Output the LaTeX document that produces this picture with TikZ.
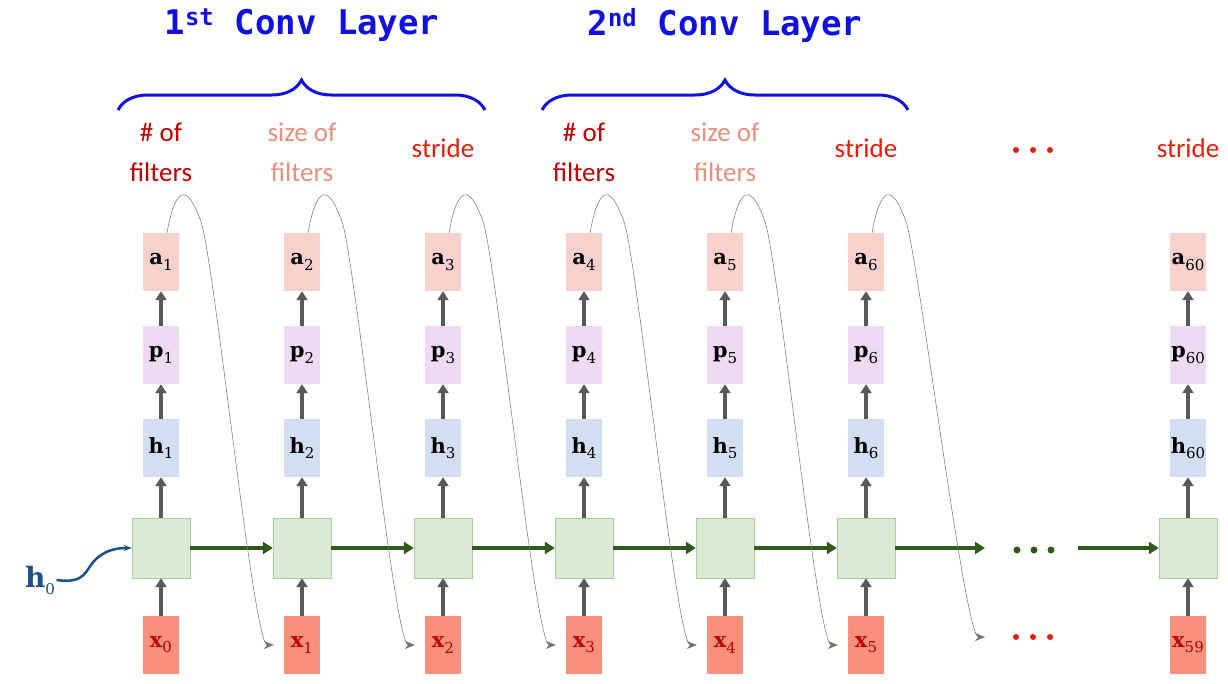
\documentclass[tikz,border=0pt]{standalone}
\usepackage{fontspec}
\setsansfont{Carlito}
\newfontfamily\monof{DejaVu Sans Mono}
\newfontfamily\serf{DejaVu Serif}
\usetikzlibrary{arrows.meta,decorations.pathreplacing}
\definecolor{afill}{HTML}{F9D0CC}
\definecolor{pfill}{HTML}{EFDAF4}
\definecolor{hfill}{HTML}{D2DEF2}
\definecolor{gfill}{HTML}{DAEAD5}
\definecolor{gdraw}{HTML}{A8CC9C}
\definecolor{xfill}{HTML}{F8907C}
\definecolor{dred}{HTML}{C00000}
\definecolor{lred}{HTML}{E8907E}
\definecolor{rred}{HTML}{E0200E}
\definecolor{dgreen}{HTML}{2E5A1C}
\definecolor{tblue}{HTML}{1010E0}
\definecolor{hblue}{HTML}{1F4E8C}
\newcommand{\vv}[2]{{\bfseries #1}\raisebox{-0.25em}{\fontsize{15}{15}\selectfont #2}}
\begin{document}
\begin{tikzpicture}[x=1pt,y=-1pt,
  sm/.style={minimum width=36pt,minimum height=58pt,inner sep=0pt,font=\serf\fontsize{21}{24}\selectfont},
  cell/.style={draw=gdraw,fill=gfill,minimum width=58pt,minimum height=60pt,inner sep=0pt},
  up/.style={-{Triangle[length=9pt,width=11pt]},line width=4pt,draw=black!65},
  rt/.style={-{Triangle[length=10pt,width=12pt]},line width=3.5pt,draw=dgreen},
  curve/.style={-{Stealth[length=10pt,width=8pt]},draw=black!55,line width=0.5pt},
  lab/.style={font=\sffamily\fontsize{27}{40}\selectfont,align=center},
  brace/.style={draw=tblue,line width=3pt,decorate,decoration={brace,amplitude=30pt}}]
\useasboundingbox (0,0) rectangle (1228,683);
\foreach \i/\x in {1/161,2/302,3/443,4/584,5/725,6/866,60/1188}{
  \node[sm,fill=afill] (a\i) at (\x,262) {\vv{a}{\i}};
  \node[sm,fill=pfill] (p\i) at (\x,355) {\vv{p}{\i}};
  \node[sm,fill=hfill] (h\i) at (\x,448) {\vv{h}{\i}};
  \node[cell] (c\i) at (\x,548) {};
  \draw[up] (c\i) -- (h\i);
  \draw[up] (h\i) -- (p\i);
  \draw[up] (p\i) -- (a\i);
}
\foreach \i/\x in {0/161,1/302,2/443,3/584,4/725,5/866,59/1188}{
  \node[sm,fill=xfill] (x\i) at (\x,645) {\color{red!75!black}\vv{x}{\i}};
}
\foreach \i/\j in {0/1,1/2,2/3,3/4,4/5,5/6,59/60}{\draw[up] (x\i) -- (c\j);}
\foreach \i/\j in {1/2,2/3,3/4,4/5,5/6}{\draw[rt] (c\i) -- (c\j);}
\coordinate (ge) at (985,548);
\coordinate (gs) at (1078,548);
\draw[rt] (c6) -- (ge);
\foreach \k in {0,1,2}{\fill[dgreen] (1017+17*\k,550) circle (3.5pt);}
\draw[rt] (gs) -- (c60);
\foreach \k in {0,1,2}{\fill[rred] (1016+17*\k,637) circle (3pt);}
\coordinate (xe) at (985,637);
% curves
\foreach \i/\j in {1/1,2/2,3/3,4/4,5/5}{
  \path (a\i.north) ++(6,0) coordinate (s\i);
  \draw[curve] (s\i) .. controls +(8,-45) and +(-15,-45) .. ++(35,-8) .. controls +(15,60) and +(-20,0) .. ([xshift=-10pt]x\j.west);
}
\path (a6.north) ++(6,0) coordinate (s6);
\draw[curve] (s6) .. controls +(8,-45) and +(-15,-45) .. ++(35,-8) .. controls +(15,60) and +(-20,0) .. (xe);
% labels
\foreach \x/\n in {161/1,584/2}{
  \node[lab,text=dred] (n\n) at (\x,152) {\# of\\filters};
  \node[lab,text=lred] (s\n) at (\x+141,152) {size of\\filters};
  \node[lab,text=rred] (st\n) at (\x+282,148) {stride};
}
\node[lab,text=rred] (st3) at (1188,148) {stride};
\foreach \k in {0,1,2}{\fill[rred] (1016+17*\k,150) circle (3pt);}
% braces
\draw[brace] (118,110) -- (485,110);
\draw[brace] (542,110) -- (908,110);
\node[text=tblue,font=\monof\bfseries\fontsize{34}{34}\selectfont] (t1) at (302,25) {1\textsuperscript{st} Conv Layer};
\node[text=tblue,font=\monof\bfseries\fontsize{34}{34}\selectfont] (t2) at (725,25) {2\textsuperscript{nd} Conv Layer};
% h0
\node[text=hblue,font=\serf\fontsize{28}{28}\selectfont] (h0) at (40,580) {\vv{h}{0}};
\draw[hblue,line width=2.5pt,-{Stealth[length=8pt]}] ([xshift=-2pt]h0.east) .. controls +(30,4) and +(-10,10) .. (95,560) .. controls +(10,-10) and +(-15,0) .. (c1.west);
\end{tikzpicture}
\end{document}
